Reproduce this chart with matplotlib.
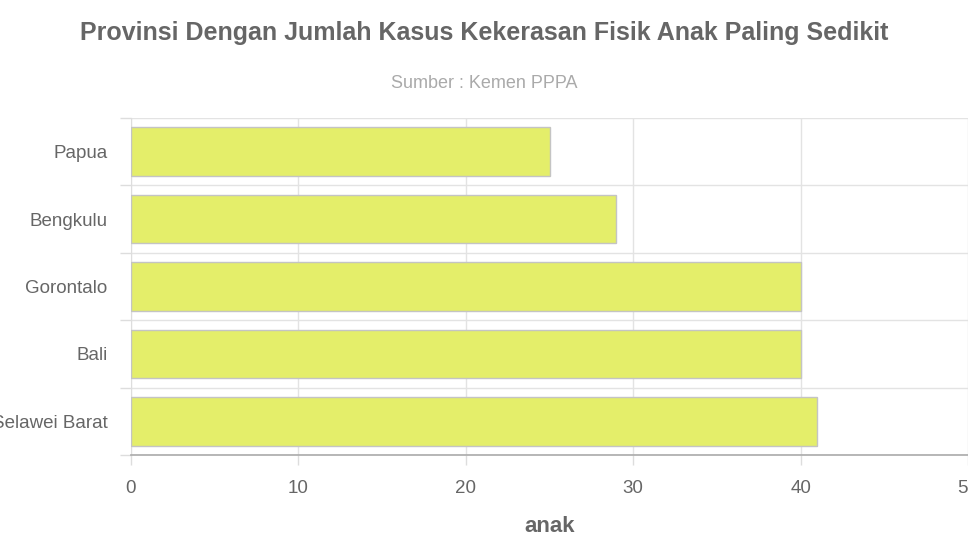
import numpy as np
import matplotlib.pyplot as plt

provinsi = ['Papua', 'Bengkulu', 'Gorontalo', 'Bali', 'Selawei Barat']
kasus = [25, 29, 40, 40, 41]

plt.rcParams['font.family'] = ['Liberation Sans', 'DejaVu Sans']

fig = plt.figure(figsize=(9.68, 5.43), dpi=100)
ax = fig.add_axes([131 / 968, 1 - 455 / 543, 1 - 131 / 968, (455 - 118) / 543])

y = np.arange(len(provinsi))
ax.barh(y, kasus, height=0.72, color='#e4ee6a', edgecolor='#c4c4c4', linewidth=1, zorder=3)
ax.set_ylim(len(provinsi) - 0.5, -0.5)
ax.set_xlim(0, 50)

ax.set_yticks(y)
ax.set_yticklabels(provinsi)
ax.set_yticks(np.arange(-0.5, len(provinsi)), minor=True)
ax.tick_params(axis='y', which='major', length=0, pad=17, labelsize=13.5, labelcolor='#666666')
ax.tick_params(axis='y', which='minor', length=8, color='#dddddd', width=1)
ax.grid(axis='y', which='minor', color='#e3e3e3', linewidth=1, zorder=0)

ax.set_xticks(np.arange(0, 51, 10))
ax.tick_params(axis='x', length=7, color='#dddddd', width=1, pad=11, labelsize=13.5, labelcolor='#666666')
ax.grid(axis='x', which='major', color='#e3e3e3', linewidth=1, zorder=0)

for s in ['top', 'right']:
    ax.spines[s].set_visible(False)
ax.spines['left'].set_color('#dddddd')
ax.spines['bottom'].set_color('#aaaaaa')
ax.spines['bottom'].set_linewidth(1.2)

ax.set_xlabel('anak', fontsize=16, fontweight='bold', color='#666666', labelpad=14)

fig.text(0.5, 1 - 33 / 543, 'Provinsi Dengan Jumlah Kasus Kekerasan Fisik Anak Paling Sedikit',
         ha='center', va='center', fontsize=18, fontweight='bold', color='#666666')
fig.text(0.5, 1 - 84 / 543, 'Sumber : Kemen PPPA', ha='center', va='center',
         fontsize=13, color='#aaaaaa')

fig.savefig('out.png', dpi=100)
